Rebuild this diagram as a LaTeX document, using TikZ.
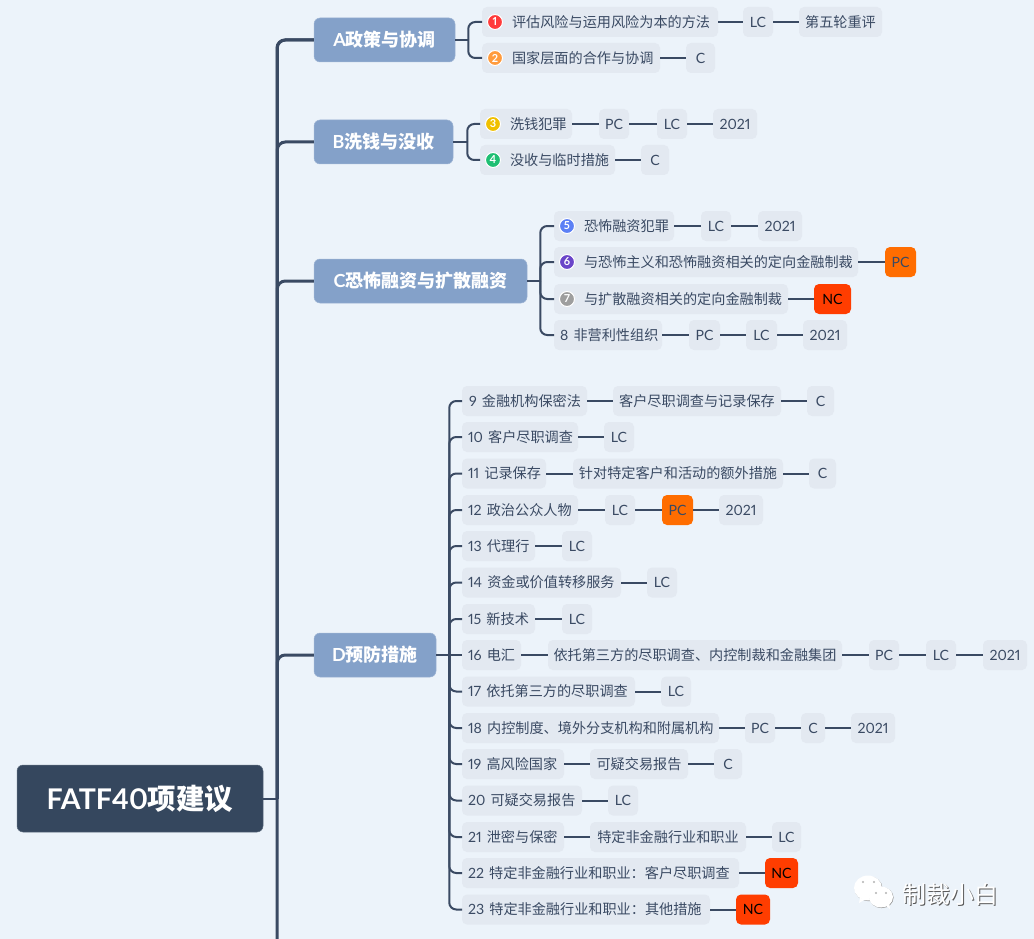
\documentclass[tikz,border=0pt]{standalone}
\usepackage{fontspec}
\setmainfont{Noto Sans CJK SC}
\newfontfamily\la[Numbers=Proportional]{Lato}
\definecolor{bgc}{HTML}{ECF3FA}
\definecolor{boxc}{HTML}{E3E9F1}
\definecolor{ink}{HTML}{3A4A63}
\definecolor{rootc}{HTML}{35475E}
\definecolor{topicc}{HTML}{84A1C9}
\definecolor{pcc}{HTML}{FF6D00}
\definecolor{ncc}{HTML}{FF3D00}
\tikzset{
  rowbox/.style={rectangle,rounded corners=5pt,fill=boxc,text=ink,inner sep=0pt,outer sep=0pt,
    minimum height=30pt,text height=11.6pt,text depth=1.4pt,font=\fontsize{14.15}{16}\selectfont},
  pcbox/.style={fill=pcc},
  ncbox/.style={fill=ncc,text=black},
  topicbox/.style={rectangle,rounded corners=6pt,fill=topicc,draw=topicc!80!white,line width=.5pt,text=white,inner sep=0pt,
    minimum height=44pt,text height=15pt,text depth=1.4pt,font=\fontsize{18}{20}\selectfont\bfseries},
  rootbox/.style={rectangle,rounded corners=6pt,fill=rootc,draw=rootc!80!white,line width=.5pt,text=white,inner sep=0pt,
    minimum height=67pt,text height=23pt,text depth=1.4pt,font=\fontsize{28.5}{31}\selectfont\bfseries},
  trunk/.style={draw=ink,line width=3pt,rounded corners=8pt},
  fan/.style={draw=ink,line width=2pt,rounded corners=7pt},
  cn/.style={draw=ink,line width=2pt},
  icon/.style={circle,draw=white,line width=1pt,minimum size=15pt,inner sep=0pt,text=white,
    font=\la\fontsize{11}{11}\selectfont\bfseries},
  wmark/.style={font=\fontsize{24}{26}\selectfont,inner sep=0pt},
}
\newcommand{\bx}[6]{%
  \pgfmathsetmacro{\bw}{#3-#2}\pgfmathsetmacro{\bc}{(#2+#3)/2}%
  \node[rowbox,#5,minimum width=\bw pt] (#1) at (\bc,#4) {\makebox[\bw pt][c]{#6}};}
\newcommand{\bxl}[7]{%
  \pgfmathsetmacro{\bw}{#3-#2}\pgfmathsetmacro{\bc}{(#2+#3)/2}%
  \node[rowbox,#5,minimum width=\bw pt] (#1) at (\bc,#4) {\makebox[\bw pt][l]{\hspace{#6pt}#7}};}
\newcommand{\tp}[5]{%
  \pgfmathsetmacro{\bw}{#3-#2}\pgfmathsetmacro{\bc}{(#2+#3)/2}%
  \node[topicbox,minimum width=\bw pt] (#1) at (\bc,#4) {#5};}
\newcommand{\cnn}[2]{\draw[cn] (#1.east) -- (#2.west);}
\newcommand{\ic}[5]{\definecolor{icf}{HTML}{#4}\node[icon,fill=icf] (#1) at (#2,#3) {#5};}
\newcommand{\nm}[1]{{\la #1}\hspace{5.2pt}}
\begin{document}
\begin{tikzpicture}[x=1pt,y=-1pt]
\fill[bgc] (0,0) rectangle (1034,939);
\useasboundingbox (0,0) rectangle (1034,939);
% root and topics
\node[rootbox,minimum width=246pt] (root) at (140,798.5) {{\la FATF40}项建议};
\tp{ta}{314}{455}{40}{{\la A}政策与协调}
\tp{tb}{314}{453}{142}{{\la B}洗钱与没收}
\tp{tc}{314}{527}{281}{{\la C}恐怖融资与扩散融资}
\tp{td}{314}{436}{655}{{\la D}预防措施}
\coordinate (trunkend) at (277,939);
\path (root.east) ++(14,0) coordinate (rj);
\path (ta.east) ++(13,0) coordinate (sa);
\path (tb.east) ++(14,0) coordinate (sb);
\path (tc.east) ++(13,0) coordinate (sc);
\path (td.east) ++(13,0) coordinate (sd);
% A
\bxl{a1}{482}{718}{22}{}{30}{评估风险与运用风险为本的方法}
\bx{a1b}{743}{773}{22}{}{\la LC}
\bx{a1c}{799}{882}{22}{}{第五轮重评}
\bxl{a2}{482}{660}{58}{}{30}{国家层面的合作与协调}
\bx{a2b}{686}{715}{58}{}{\la C}
% B
\bxl{b3}{480}{572}{124}{}{30}{洗钱犯罪}
\bx{b3b}{599}{629}{124}{}{\la PC}
\bx{b3c}{657}{687}{124}{}{\la LC}
\bx{b3d}{713}{757}{124}{}{\la 2021}
\bxl{b4}{480}{615}{160}{}{30}{没收与临时措施}
\bx{b4b}{641}{669}{160}{}{\la C}
% C
\bxl{c5}{554}{674}{226}{}{30}{恐怖融资犯罪}
\bx{c5b}{701}{731}{226}{}{\la LC}
\bx{c5c}{758}{802}{226}{}{\la 2021}
\bxl{c6}{554}{858}{262}{}{30}{与恐怖主义和恐怖融资相关的定向金融制裁}
\bx{c6b}{885}{916}{262}{pcbox}{\la PC}
\bxl{c7}{554}{788}{299}{}{30}{与扩散融资相关的定向金融制裁}
\bx{c7b}{814}{851}{299}{ncbox}{\la NC}
\bxl{c8}{554}{662}{335}{}{6}{\nm{8}非营利性组织}
\bx{c8b}{689}{720}{335}{}{\la PC}
\bx{c8c}{746}{777}{335}{}{\la LC}
\bx{c8d}{803}{847}{335}{}{\la 2021}
% D
\bxl{d9}{462}{587}{401}{}{7}{\nm{9}金融机构保密法}
\bx{d9b}{613}{781}{401}{}{客户尽职调查与记录保存}
\bx{d9c}{807}{834}{401}{}{\la C}
\bxl{d10}{462}{578}{437}{}{6}{\nm{10}客户尽职调查}
\bx{d10b}{604}{634}{437}{}{\la LC}
\bxl{d11}{462}{546}{473.5}{}{6}{\nm{11}记录保存}
\bx{d11b}{573}{783}{473.5}{}{针对特定客户和活动的额外措施}
\bx{d11c}{809}{836}{473.5}{}{\la C}
\bxl{d12}{462}{578}{510}{}{6}{\nm{12}政治公众人物}
\bx{d12b}{605}{635}{510}{}{\la LC}
\bx{d12c}{662}{693}{510}{pcbox}{\la PC}
\bx{d12d}{719}{763}{510}{}{\la 2021}
\bxl{d13}{462}{535}{546}{}{6}{\nm{13}代理行}
\bx{d13b}{562}{592}{546}{}{\la LC}
\bxl{d14}{462}{621}{582.5}{}{6}{\nm{14}资金或价值转移服务}
\bx{d14b}{647}{677}{582.5}{}{\la LC}
\bxl{d15}{462}{535}{619}{}{6}{\nm{15}新技术}
\bx{d15b}{562}{592}{619}{}{\la LC}
\bxl{d16}{462}{521}{655}{}{6}{\nm{16}电汇}
\bx{d16b}{548}{842}{655}{}{依托第三方的尽职调查、内控制裁和金融集团}
\bx{d16c}{869}{899}{655}{}{\la PC}
\bx{d16d}{926}{956}{655}{}{\la LC}
\bx{d16e}{983}{1027}{655}{}{\la 2021}
\bxl{d17}{462}{635}{691.5}{}{6}{\nm{17}依托第三方的尽职调查}
\bx{d17b}{661}{691}{691.5}{}{\la LC}
\bxl{d18}{462}{719}{728}{}{6}{\nm{18}内控制度、境外分支机构和附属机构}
\bx{d18b}{745}{775}{728}{}{\la PC}
\bx{d18c}{801}{825}{728}{}{\la C}
\bx{d18d}{851}{895}{728}{}{\la 2021}
\bxl{d19}{462}{564}{764}{}{6}{\nm{19}高风险国家}
\bx{d19b}{590}{688}{764}{}{可疑交易报告}
\bx{d19c}{714}{742}{764}{}{\la C}
\bxl{d20}{462}{582}{800.5}{}{6}{\nm{20}可疑交易报告}
\bx{d20b}{608}{638}{800.5}{}{\la LC}
\bxl{d21}{462}{564}{837}{}{6}{\nm{21}泄密与保密}
\bx{d21b}{590}{746}{837}{}{特定非金融行业和职业}
\bx{d21c}{772}{801}{837}{}{\la LC}
\bxl{d22}{462}{739}{873}{}{6}{\nm{22}特定非金融行业和职业：客户尽职调查}
\bx{d22b}{765}{798}{873}{ncbox}{\la NC}
\bxl{d23}{462}{710}{909.5}{}{6}{\nm{23}特定非金融行业和职业：其他措施}
\bx{d23b}{736}{770}{909.5}{ncbox}{\la NC}
% icons
\ic{i1}{495}{22}{FF3B3B}{1}
\ic{i2}{495}{58}{FF9B3D}{2}
\ic{i3}{493}{124}{F0C000}{3}
\ic{i4}{493}{160}{1FBF73}{4}
\ic{i5}{567}{226}{5C80F5}{5}
\ic{i6}{567}{262}{6A45C9}{6}
\ic{i7}{567}{299}{9E9E9E}{7}
% trunk
\draw[cn] (root.east) -- (rj);
\foreach \k in {ta,tb,tc,td}{\draw[trunk] (\k.west) -| (rj);}
\draw[trunk] (ta.west) -| (trunkend);
% fans
\draw[cn] (ta.east) -- (sa);
\draw[cn] (tb.east) -- (sb);
\draw[cn] (tc.east) -- (sc);
\draw[cn] (td.east) -- (d16.west);
\foreach \k in {a1,a2}{\draw[fan] (\k.west) -| (sa);}
\foreach \k in {b3,b4}{\draw[fan] (\k.west) -| (sb);}
\foreach \k in {c5,c6,c7,c8}{\draw[fan] (\k.west) -| (sc);}
\foreach \k in {d9,d10,d11,d12,d13,d14,d15,d17,d18,d19,d20,d21,d22,d23}{\draw[fan] (\k.west) -| (sd);}
% row connectors
\cnn{a1}{a1b}\cnn{a1b}{a1c}\cnn{a2}{a2b}
\cnn{b3}{b3b}\cnn{b3b}{b3c}\cnn{b3c}{b3d}\cnn{b4}{b4b}
\cnn{c5}{c5b}\cnn{c5b}{c5c}\cnn{c6}{c6b}\cnn{c7}{c7b}\cnn{c8}{c8b}\cnn{c8b}{c8c}\cnn{c8c}{c8d}
\cnn{d9}{d9b}\cnn{d9b}{d9c}\cnn{d10}{d10b}\cnn{d11}{d11b}\cnn{d11b}{d11c}
\cnn{d12}{d12b}\cnn{d12b}{d12c}\cnn{d12c}{d12d}\cnn{d13}{d13b}\cnn{d14}{d14b}\cnn{d15}{d15b}
\cnn{d16}{d16b}\cnn{d16b}{d16c}\cnn{d16c}{d16d}\cnn{d16d}{d16e}\cnn{d17}{d17b}
\cnn{d18}{d18b}\cnn{d18b}{d18c}\cnn{d18c}{d18d}\cnn{d19}{d19b}\cnn{d19b}{d19c}\cnn{d20}{d20b}
\cnn{d21}{d21b}\cnn{d21b}{d21c}\cnn{d22}{d22b}\cnn{d23}{d23b}
% watermark icon
\fill[gray!80] (868.6,888.6) ellipse [x radius=14,y radius=12.5];
\fill[white] (868,888) ellipse [x radius=14,y radius=12.5];
\fill[white] (860,898) -- (859,903) -- (866,899) -- cycle;
\fill[gray!80] (881.6,897.6) ellipse [x radius=12,y radius=10.5];
\fill[white] (881,897) ellipse [x radius=12,y radius=10.5];
\fill[white] (885,905) -- (890,909) -- (889,903) -- cycle;
\fill[gray!60] (863,882) circle (1.2) (874,882) circle (1.2) (876,893) circle (1.1) (886,893) circle (1.1);
% watermark text
\node[wmark,text=black!65] (wms) at (951,895) {制裁小白};
\node[wmark,text=white] (wm) at (950,894) {制裁小白};
\end{tikzpicture}
\end{document}
